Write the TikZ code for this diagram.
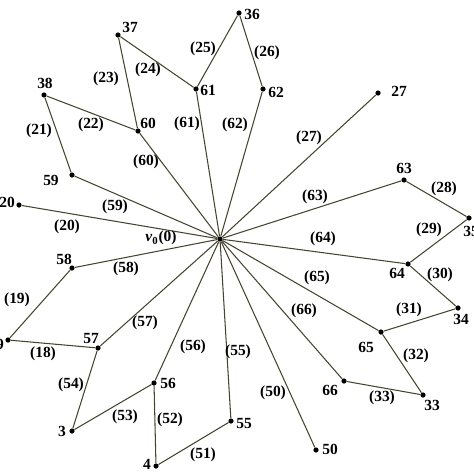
\documentclass[tikz,border=0pt]{standalone}
\usepackage{fontspec}
\setmainfont{Liberation Serif}
\usepackage{tikz}

\begin{document}
\begin{tikzpicture}[x=0.025cm, y=-0.025cm,
    edge/.style={draw=black!65!olive, line width=0.75pt},
    vertex/.style={circle, minimum size=0.13cm, inner sep=0cm, fill=black},
    txt/.style={inner sep=0pt, font=\fontsize{11}{13}\selectfont\bfseries}]
    \useasboundingbox (0, 0) rectangle (474, 474);

    % vertices
    \node [vertex] (v0)  at (220, 239) {};
    \node [vertex] (v20) at (19, 205) {};
    \node [vertex] (v59) at (72, 175) {};
    \node [vertex] (v38) at (44, 95) {};
    \node [vertex] (v60) at (138, 131) {};
    \node [vertex] (v37) at (118, 35) {};
    \node [vertex] (v61) at (196, 89) {};
    \node [vertex] (v36) at (239, 13) {};
    \node [vertex] (v62) at (263, 89) {};
    \node [vertex] (v27) at (378, 93) {};
    \node [vertex] (v63) at (404, 180) {};
    \node [vertex] (v35) at (469, 218) {};
    \node [vertex] (v64) at (408, 264) {};
    \node [vertex] (v34) at (458, 308) {};
    \node [vertex] (v65) at (381, 332) {};
    \node [vertex] (v33) at (423, 395) {};
    \node [vertex] (v66) at (344, 381) {};
    \node [vertex] (v50) at (316, 450) {};
    \node [vertex] (v55) at (231, 421) {};
    \node [vertex] (v4)  at (156, 466) {};
    \node [vertex] (v56) at (154, 383) {};
    \node [vertex] (v3)  at (72, 431) {};
    \node [vertex] (v57) at (98, 348) {};
    \node [vertex] (v19) at (8, 340) {};
    \node [vertex] (v58) at (72, 268) {};

    % spokes
    \foreach \v in {20, 59, 60, 61, 62, 27, 63, 64, 65, 66, 50, 55, 56, 57, 58}
      \draw [edge] (v0) -- (v\v);

    % outer paths
    \draw [edge] (v59) -- (v38) -- (v60) -- (v37) -- (v61) -- (v36) -- (v62);
    \draw [edge] (v63) -- (v35) -- (v64) -- (v34) -- (v65) -- (v33) -- (v66);
    \draw [edge] (v58) -- (v19) -- (v57) -- (v3) -- (v56) -- (v4) -- (v55);

    % vertex labels
    \node [txt] (n0)  at (161, 238) {\textit{v}\textsubscript{0}(0)};
    \node [txt] (n37) at (130, 27) {37};
    \node [txt] (n36) at (252, 14) {36};
    \node [txt] (n61) at (208, 90) {61};
    \node [txt] (n62) at (276, 92) {62};
    \node [txt] (n38) at (45, 83) {38};
    \node [txt] (n60) at (148, 123) {60};
    \node [txt] (n59) at (51, 180) {59};
    \node [txt] (n20) at (7, 202) {20};
    \node [txt] (n27) at (399, 91) {27};
    \node [txt] (n63) at (404, 168) {63};
    \node [txt] (n35) at (471, 231) {35};
    \node [txt] (n64) at (397, 273) {64};
    \node [txt] (n34) at (461, 319) {34};
    \node [txt] (n65) at (366, 347) {65};
    \node [txt] (n33) at (432, 405) {33};
    \node [txt] (n66) at (330, 390) {66};
    \node [txt] (n50) at (330, 449) {50};
    \node [txt] (n55) at (244, 424) {55};
    \node [txt] (n4)  at (147, 464) {4};
    \node [txt] (n56) at (168, 383) {56};
    \node [txt] (n3)  at (62, 431) {3};
    \node [txt] (n57) at (91, 339) {57};
    \node [txt] (n19) at (-4, 344) {19};
    \node [txt] (n58) at (64, 259) {58};

    % edge labels
    \node [txt] (e20) at (67, 227) {(20)};
    \node [txt] (e59) at (115, 207) {(59)};
    \node [txt] (e21) at (39, 131) {(21)};
    \node [txt] (e22) at (91, 125) {(22)};
    \node [txt] (e23) at (106, 79) {(23)};
    \node [txt] (e24) at (148, 70) {(24)};
    \node [txt] (e25) at (203, 49) {(25)};
    \node [txt] (e26) at (267, 53) {(26)};
    \node [txt] (e61) at (187, 124) {(61)};
    \node [txt] (e62) at (235, 125) {(62)};
    \node [txt] (e60) at (146, 162) {(60)};
    \node [txt] (e27) at (309, 138) {(27)};
    \node [txt] (e63) at (315, 197) {(63)};
    \node [txt] (e28) at (444, 189) {(28)};
    \node [txt] (e29) at (429, 230) {(29)};
    \node [txt] (e64) at (323, 239) {(64)};
    \node [txt] (e30) at (440, 275) {(30)};
    \node [txt] (e31) at (409, 310) {(31)};
    \node [txt] (e65) at (317, 278) {(65)};
    \node [txt] (e32) at (416, 356) {(32)};
    \node [txt] (e66) at (304, 311) {(66)};
    \node [txt] (e33) at (382, 398) {(33)};
    \node [txt] (e50) at (273, 393) {(50)};
    \node [txt] (e55) at (238, 352) {(55)};
    \node [txt] (e56) at (193, 347) {(56)};
    \node [txt] (e57) at (145, 323) {(57)};
    \node [txt] (e58) at (126, 269) {(58)};
    \node [txt] (e19) at (17, 300) {(19)};
    \node [txt] (e18) at (43, 354) {(18)};
    \node [txt] (e54) at (71, 385) {(54)};
    \node [txt] (e53) at (125, 417) {(53)};
    \node [txt] (e52) at (170, 420) {(52)};
    \node [txt] (e51) at (203, 455) {(51)};
  \end{tikzpicture}
\end{document}
